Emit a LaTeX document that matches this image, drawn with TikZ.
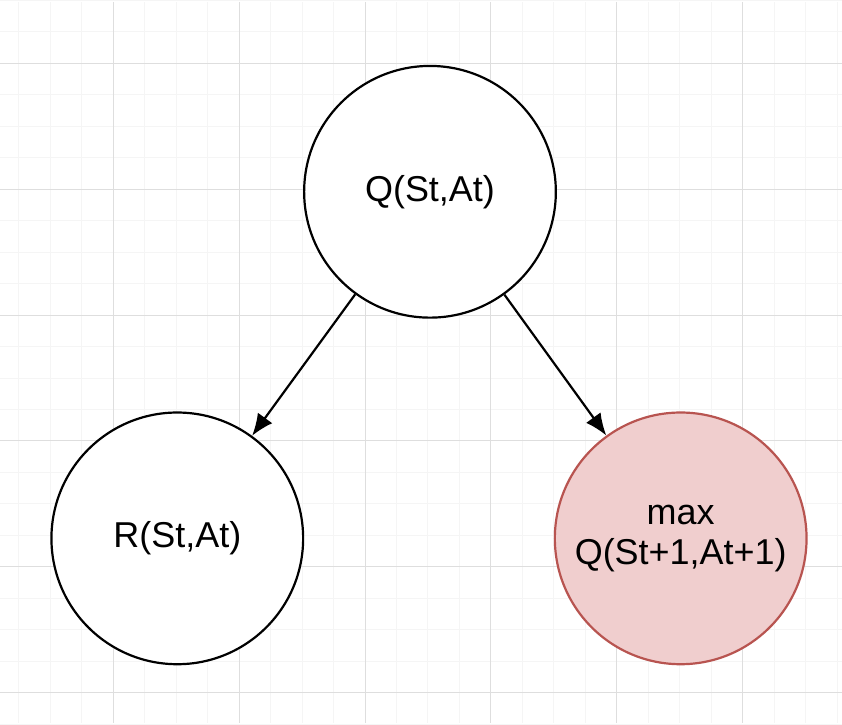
\documentclass[tikz,border=0pt]{standalone}
\usepackage{fontspec}
\setmainfont{Liberation Sans}
\usetikzlibrary{arrows.meta}
\definecolor{redfill}{HTML}{F0CECE}
\definecolor{redline}{HTML}{B85450}
\definecolor{gridc}{HTML}{F5F5F5}
\definecolor{gridm}{HTML}{DEDEDE}
\begin{document}
\begin{tikzpicture}[x=1pt,y=-1pt,
  st/.style={circle,draw=black,line width=2.2pt,minimum size=252pt,inner sep=0pt,align=center,font=\fontsize{36}{40}\selectfont},
  arr/.style={-{Latex[length=22pt,width=18pt]},line width=2.2pt}]
\fill[white] (0,0) rectangle (842,722);
\foreach \i in {0,...,26} \draw[gridc,line width=1pt] (18.5+31.5*\i,0) -- (18.5+31.5*\i,722);
\foreach \i in {0,...,23} \draw[gridc,line width=1pt] (0,-1.5+31.5*\i) -- (842,-1.5+31.5*\i);
\foreach \i in {0,...,5} \draw[gridm,line width=1pt] (113+126*\i,0) -- (113+126*\i,722);
\foreach \i in {0,...,5} \draw[gridm,line width=1pt] (0,61.5+126*\i) -- (842,61.5+126*\i);
\useasboundingbox (0,0) rectangle (842,722);
\node[st,fill=white] (q) at (430,190) {Q(St,At)};
\node[st,fill=white] (r) at (177,537) {R(St,At)};
\node[st,fill=redfill,draw=redline] (m) at (681,537) {max\\Q(St+1,At+1)};
\draw[arr] (q) -- (r);
\draw[arr] (q) -- (m);
\end{tikzpicture}
\end{document}
